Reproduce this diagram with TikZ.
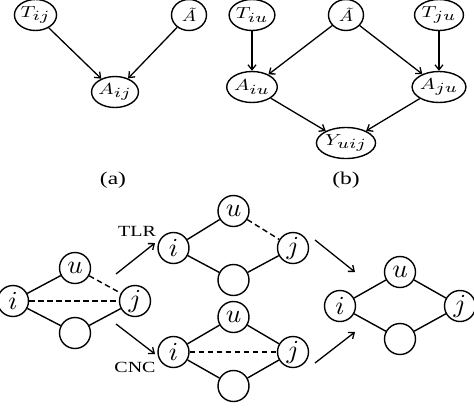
\documentclass[tikz,border=0pt]{standalone}
\usepackage{fontspec}
\setmainfont{Liberation Serif}
\newfontfamily\lmr[ItalicFont=lmroman10-italic.otf]{lmroman10-regular.otf}
\usetikzlibrary{shapes.geometric,arrows.meta}
\newcommand{\topt}[1]{\scalebox{2.05}[1.6]{$#1$}}
\newcommand{\sub}[1]{\scalebox{1.25}{$\scriptstyle #1$}}
\newcommand{\atil}{\scalebox{2.05}[1.6]{\lmr\itshape Ã}}
\newcommand{\botl}[1]{\scalebox{2.7}[2.6]{$#1$}}
\newcommand{\lbl}[1]{\scalebox{2.35}[1.8]{#1}}
\newcommand{\sml}[1]{\scalebox{2.0}[1.55]{#1}}
\begin{document}
\begin{tikzpicture}[x=1pt,y=-1pt,
  topnode/.style={draw,ellipse,line width=1.4pt,minimum width=35pt,minimum height=31pt,inner sep=0pt},
  botnode/.style={draw,circle,line width=1.4pt,minimum size=31pt,inner sep=0pt},
  arr/.style={line width=1.3pt,-{Straight Barb[length=5pt,width=8pt,line width=1.3pt]}},
  edge/.style={line width=1.4pt},
  dedge/.style={line width=1.4pt,dash pattern=on 5.5pt off 3.5pt}]
\useasboundingbox (0,0) rectangle (474,413);
% (a)
\node[topnode] (tij) at (35.5,15) {\topt{T_{\sub{ij}}}};
\node[topnode] (aa) at (189,15) {\atil};
\node[topnode] (aij) at (115,92) {\topt{A_{\sub{ij}}}};
\draw[arr] (tij) -- (aij);
\draw[arr] (aa) -- (aij);
\node (la) at (113,180) {\lbl{(a)}};
% (b)
\node[topnode] (tiu) at (252,15) {\topt{T_{\sub{iu}}}};
\node[topnode] (ab) at (346,15) {\atil};
\node[topnode] (tju) at (439,15) {\topt{T_{\sub{ju}}}};
\node[topnode] (aiu) at (252,87) {\topt{A_{\sub{iu}}}};
\node[topnode] (aju) at (439,87) {\topt{A_{\sub{ju}}}};
\node[topnode] (yuij) at (346,143) {\topt{Y_{\sub{uij}}}};
\draw[arr] (tiu) -- (aiu);
\draw[arr] (tju) -- (aju);
\draw[arr] (ab) -- (aiu);
\draw[arr] (ab) -- (aju);
\draw[arr] (aiu) -- (yuij);
\draw[arr] (aju) -- (yuij);
\node (lb) at (346,180) {\lbl{(b)}};
% left graph
\node[botnode] (li) at (13,301) {\botl{i}};
\node[botnode] (lu) at (75,268) {\botl{u}};
\node[botnode] (lj) at (135,301) {\botl{j}};
\node[botnode] (lb0) at (75,333) {};
\draw[edge] (li) -- (lu);
\draw[edge] (li) -- (lb0);
\draw[edge] (lb0) -- (lj);
\draw[dedge] (lu) -- (lj);
\draw[dedge] (li) -- (lj);
% middle top graph
\node[botnode] (mi) at (173.5,248) {\botl{i}};
\node[botnode] (mu) at (233.5,211) {\botl{u}};
\node[botnode] (mj) at (293,248) {\botl{j}};
\node[botnode] (mb) at (233.5,280) {};
\draw[edge] (mi) -- (mu);
\draw[edge] (mi) -- (mb);
\draw[edge] (mb) -- (mj);
\draw[dedge] (mu) -- (mj);
% middle bottom graph
\node[botnode] (ni) at (173.5,352) {\botl{i}};
\node[botnode] (nu) at (233.5,317) {\botl{u}};
\node[botnode] (nj) at (293,352) {\botl{j}};
\node[botnode] (nb) at (233.5,386) {};
\draw[edge] (ni) -- (nu);
\draw[edge] (nu) -- (nj);
\draw[edge] (ni) -- (nb);
\draw[edge] (nb) -- (nj);
\draw[dedge] (ni) -- (nj);
% right graph
\node[botnode] (ri) at (340,306) {\botl{i}};
\node[botnode] (ru) at (400,272) {\botl{u}};
\node[botnode] (rj) at (460,306) {\botl{j}};
\node[botnode] (rb) at (400,339) {};
\draw[edge] (ri) -- (ru);
\draw[edge] (ru) -- (rj);
\draw[edge] (ri) -- (rb);
\draw[edge] (rb) -- (rj);
% transition arrows
\coordinate (a1s) at (116,274);
\coordinate (a1e) at (155,243);
\coordinate (a2s) at (116,324);
\coordinate (a2e) at (155,354);
\coordinate (a3s) at (315,240);
\coordinate (a3e) at (355,272);
\coordinate (a4s) at (315,363);
\coordinate (a4e) at (355,332);
\draw[arr] (a1s) -- (a1e);
\draw[arr] (a2s) -- (a2e);
\draw[arr] (a3s) -- (a3e);
\draw[arr] (a4s) -- (a4e);
\node (tlr) at (137,231) {\sml{TLR}};
\node (cnc) at (135,367) {\sml{CNC}};
\end{tikzpicture}
\end{document}
